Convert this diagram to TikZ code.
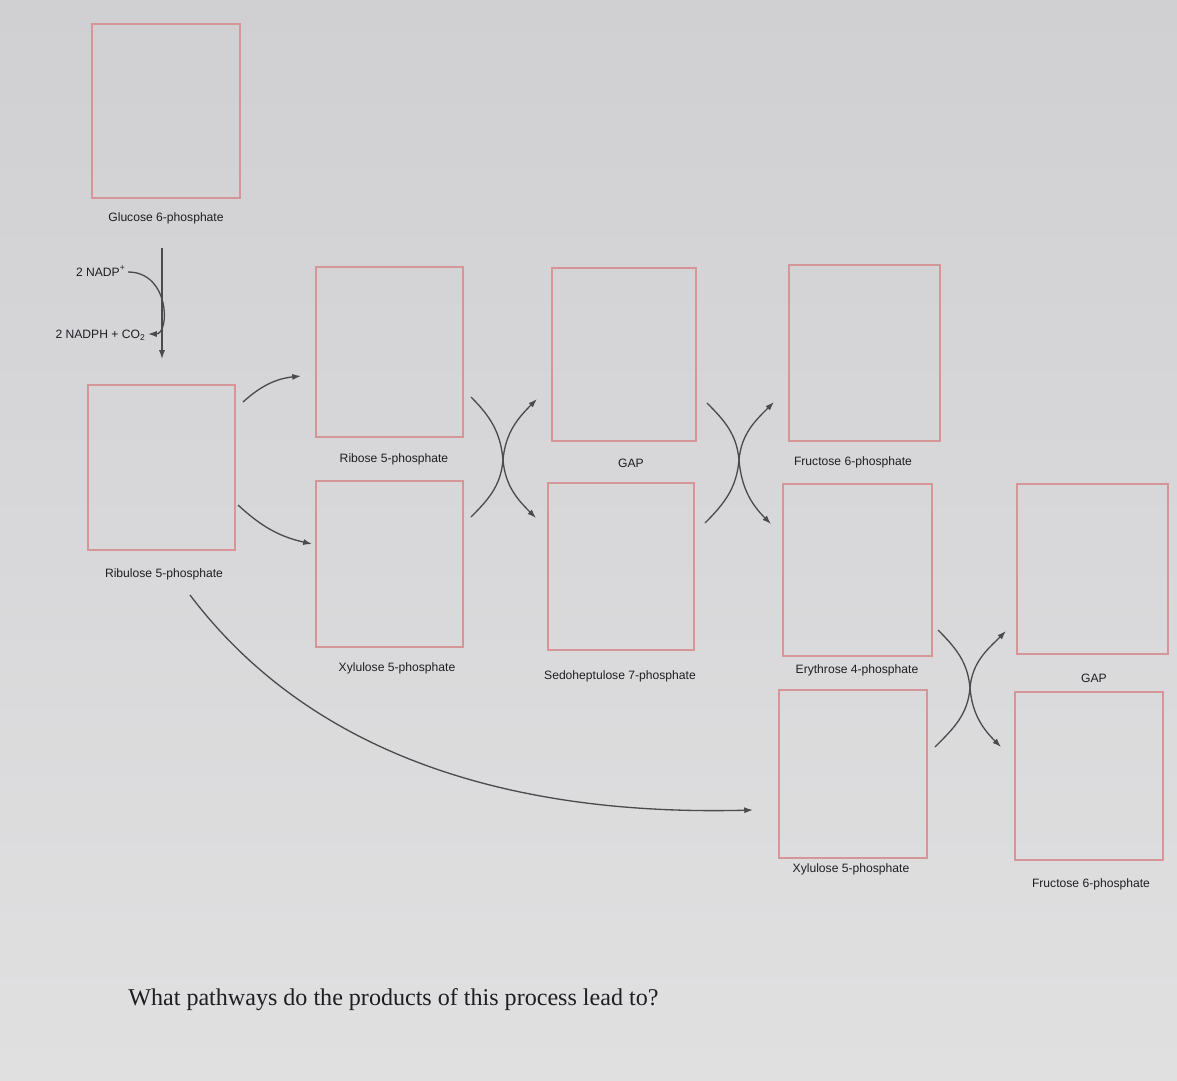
\documentclass[tikz,border=0pt]{standalone}
\usepackage{fontspec}
\setmainfont{Liberation Serif}
\newfontfamily\labfont{Liberation Sans}
\usetikzlibrary{arrows.meta,fit,calc}
\definecolor{bgtop}{RGB}{208,207,210}
\definecolor{bgbot}{RGB}{224,224,225}
\definecolor{boxline}{RGB}{214,150,152}
\definecolor{arrline}{RGB}{75,75,78}
\definecolor{txt}{RGB}{30,30,35}
\tikzset{
  pbox/.style={draw=boxline, line width=0.6pt, inner sep=0pt},
  lab/.style={font=\labfont\fontsize{6.9}{8}\selectfont, text=txt, inner sep=0pt},
  conn/.style={draw=arrline, line width=0.75pt, -{Latex[length=5pt,width=3.5pt]}},
}
\begin{document}
\begin{tikzpicture}[x=0.02cm,y=-0.02cm]
\shade[top color=bgtop, bottom color=bgbot] (0,0) rectangle (1177,1080);
\useasboundingbox (0,0) rectangle (1177,1080);

% boxes
\node[pbox, fit={(92,24) (240,198)}] (g6p) {};
\node[pbox, fit={(88,385) (235,550)}] (ru5p) {};
\node[pbox, fit={(316,267) (463,437)}] (r5p) {};
\node[pbox, fit={(316,481) (463,647)}] (xu5pa) {};
\node[pbox, fit={(552,268) (696,441)}] (gapa) {};
\node[pbox, fit={(548,483) (694,650)}] (s7p) {};
\node[pbox, fit={(789,265) (940,441)}] (f6pa) {};
\node[pbox, fit={(783,484) (932,656)}] (e4p) {};
\node[pbox, fit={(779,690) (927,858)}] (xu5pb) {};
\node[pbox, fit={(1017,484) (1168,654)}] (gapb) {};
\node[pbox, fit={(1015,692) (1163,860)}] (f6pb) {};

% labels
\node[lab] (l1) at (166,218) {Glucose 6-phosphate};
\node[lab] (l2) at (164,574) {Ribulose 5-phosphate};
\node[lab] (l3) at (394,459) {Ribose 5-phosphate};
\node[lab] (l4) at (397,668) {Xylulose 5-phosphate};
\node[lab] (l5) at (631,463) {GAP};
\node[lab] (l6) at (620,676) {Sedoheptulose 7-phosphate};
\node[lab] (l7) at (853,462) {Fructose 6-phosphate};
\node[lab] (l8) at (857,670) {Erythrose 4-phosphate};
\node[lab] (l9) at (851,869) {Xylulose 5-phosphate};
\node[lab] (l10) at (1094,678) {GAP};
\node[lab] (l11) at (1091,884) {Fructose 6-phosphate};

% oxidative step
\coordinate (vtop) at (162,248);
\coordinate (vbot) at (162,359);
\draw[conn] (vtop) -- (vbot);
\node[lab, anchor=east] (nadp) at (126,271) {2 NADP\textsuperscript{+}};
\node[lab, anchor=east] (nadph) at (146,335) {2 NADPH + CO\textsubscript{2}};
\draw[conn] ($(nadp.east)+(2,1)$) .. controls (170,272) and (170,334) .. ($(nadph.east)+(2,-1)$);

% ribulose to ribose / xylulose
\coordinate (a1s) at (243,402);
\coordinate (a1e) at (301,376);
\draw[conn] (a1s) to[bend left=18] (a1e);
\coordinate (a2s) at (238,505);
\coordinate (a2e) at (312,544);
\draw[conn] (a2s) to[bend right=15] (a2e);

% long curve
\coordinate (a3s) at (190,595);
\coordinate (a3e) at (753,810);
\draw[conn] (a3s) .. controls (330,780) and (560,815) .. (a3e);

% cross 1
\coordinate (c1) at (503,460);
\coordinate (c1tl) at (471,397);
\coordinate (c1tr) at (537,399);
\coordinate (c1bl) at (471,517);
\coordinate (c1br) at (536,518);
\draw[conn] (c1tl) to[out=-45,in=95] (c1) to[out=-85,in=135] (c1br);
\draw[conn] (c1bl) to[out=45,in=-95] (c1) to[out=85,in=-135] (c1tr);

% cross 2
\coordinate (c2) at (739,460);
\coordinate (c2tl) at (707,403);
\coordinate (c2tr) at (774,402);
\coordinate (c2bl) at (705,523);
\coordinate (c2br) at (771,524);
\draw[conn] (c2tl) to[out=-45,in=95] (c2) to[out=-85,in=135] (c2br);
\draw[conn] (c2bl) to[out=45,in=-95] (c2) to[out=85,in=-135] (c2tr);

% cross 3
\coordinate (c3) at (970,688);
\coordinate (c3tl) at (938,630);
\coordinate (c3tr) at (1006,631);
\coordinate (c3bl) at (935,747);
\coordinate (c3br) at (1001,747);
\draw[conn] (c3tl) to[out=-45,in=95] (c3) to[out=-85,in=135] (c3br);
\draw[conn] (c3bl) to[out=45,in=-95] (c3) to[out=85,in=-135] (c3tr);

% question
\node[anchor=west, inner sep=0pt, text=txt, font=\fontsize{13.7}{16}\selectfont] (q) at (128,1000) {What pathways do the products of this process lead to?};
\end{tikzpicture}
\end{document}
